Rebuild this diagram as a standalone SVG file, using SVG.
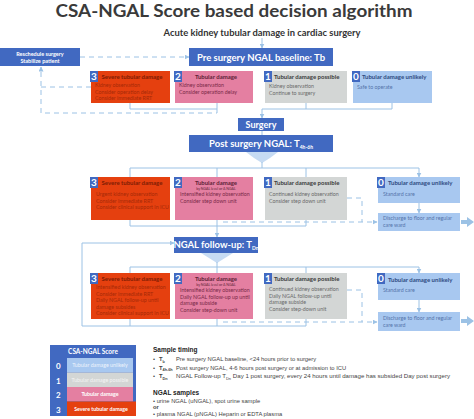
<svg xmlns="http://www.w3.org/2000/svg" width="474" height="419" viewBox="0 0 474 419">
<defs>
<marker id="ah" markerWidth="5" markerHeight="5" refX="4.5" refY="2.5" orient="auto" markerUnits="userSpaceOnUse">
<path d="M0,0 L5,2.5 L0,5 z" fill="#9cc2e5"/>
</marker>
<style>
.ln{fill:none;stroke:#9cc2e5;stroke-width:1}
.dl{fill:none;stroke:#9cc2e5;stroke-width:1;stroke-dasharray:5,4}
.bl{fill:#4169c1}
.t{font-family:Lato,"Open Sans","Liberation Sans",sans-serif}
.a{font-family:"Liberation Sans",Arial,sans-serif}
.hw{fill:#fff;font-weight:bold}
.bd{fill:#fff;font-weight:bold;font-size:10px;text-anchor:middle;font-family:Lato,"Liberation Sans",sans-serif}
.s3{fill:#e5400f}.s2{fill:#e47fa1}.s1{fill:#d3d6d5}.s0{fill:#a8c8f0}
.tt{font-size:6px;font-weight:bold}
.bt{font-size:5.3px}
.mid{text-anchor:middle}
.c3{fill:#7e1c04}.c2{fill:#5e1f38}.c1{fill:#3c3c3c}.c0{fill:#2e4a80}
.d3{fill:#a52a08}.d2{fill:#7a2a48}.d1{fill:#6a6a6a}.d0{fill:#5574aa}
.ch{fill:#c6dbf3}
.ex{fill:#9cc2e5}
.st{font-size:5.8px;fill:#444}
</style>
</defs>
<rect width="474" height="419" fill="#fff"/>

<text class="t" x="234" y="17" font-size="16.5" font-weight="bold" fill="#3a3a3a" text-anchor="middle" textLength="357" lengthAdjust="spacingAndGlyphs">CSA-NGAL Score based decision algorithm</text>
<text class="t" x="262" y="36" font-size="8.5" font-weight="bold" fill="#333" text-anchor="middle" textLength="197" lengthAdjust="spacingAndGlyphs">Acute kidney tubular damage in cardiac surgery</text>

<g id="connectors">
<path class="ln" d="M262,38 V48" marker-end="url(#ah)"/>
<path class="dl" d="M80,57 H189" marker-end="url(#ah)"/>
<path class="dl" d="M91,87 H41"/>
<path class="dl" d="M217,109 V113 H41 V67" marker-end="url(#ah)"/>
<path class="ln" d="M130,103 V109 H217 M217,103 V109"/>
<path class="ln" d="M306,103 V109 H392 V103 M262,109 H306"/>
<path class="ln" d="M262,109 V118" marker-end="url(#ah)"/>
<path class="ln" d="M262,131 V135" />
<polygon class="ch" points="246,152 278,152 270,158 262,163 254,158"/>
<path class="ln" d="M262,162 V168 M130,168 H419"/>
<path class="ln" d="M130,168 V177 M217,168 V177 M306,168 V177 M419,168 V177" marker-end="url(#ah)"/>
<path class="ln" d="M130,220 V226 H306 V220"/>
<path class="ln" d="M217,220 V237" marker-end="url(#ah)"/>
<path class="dl" d="M347,198 H362 V222"/>
<path class="dl" d="M223,222 H377" marker-end="url(#ah)"/>
<path class="ln" d="M419,203 V213" marker-end="url(#ah)"/>
<polygon class="ex" points="461,220 467,220 467,217 474,222 467,227 467,224 461,224"/>
<polygon class="ch" points="201,253 233,253 225,258 217,263 209,258"/>
<path class="ln" d="M217,262 V267 M130,267 H419"/>
<path class="ln" d="M130,267 V273 M217,267 V273 M306,267 V273 M419,267 V273" marker-end="url(#ah)"/>
<path class="ln" d="M130,319 V326 M217,319 V326 M306,319 V326 M82,326 H306"/>
<path class="ln" d="M82,326 V243 H174" marker-end="url(#ah)"/>
<path class="dl" d="M347,290 H362 V322"/>
<path class="dl" d="M223,322 H377" marker-end="url(#ah)"/>
<path class="ln" d="M419,300 V312" marker-end="url(#ah)"/>
<polygon class="ex" points="461,319 467,319 467,316 474,321 467,326 467,323 461,323"/>
</g>

<g id="reschedule">
<rect class="bl" x="0" y="48" width="80" height="18"/>
<text class="t hw mid" x="40" y="55.5" font-size="5.5">Reschedule surgery</text>
<text class="t hw mid" x="40" y="62.5" font-size="5.5">Stabilize patient</text>
</g>
<g id="pre">
<rect class="bl" x="189" y="48" width="144" height="18"/>
<text class="t hw mid" x="261" y="60.5" font-size="9.5">Pre surgery NGAL baseline: Tb</text>
</g>

<g id="r1s3">
<rect class="s3" x="91" y="71" width="79" height="32"/>
<rect class="bl" x="90" y="71" width="8" height="11"/><text class="bd" x="94" y="80">3</text>
<text class="t tt c3 mid" x="132" y="79">Severe tubular damage</text>
<text class="t bt d3" x="95" y="87">Kidney observation</text>
<text class="t bt d3" x="95" y="93.5">Consider operation delay</text>
<text class="t bt d3" x="95" y="100">Consider immediate RRT</text>
</g>
<g id="r1s2">
<rect class="s2" x="175" y="71" width="78" height="32"/>
<rect class="bl" x="174" y="71" width="8" height="11"/><text class="bd" x="178" y="80">2</text>
<text class="t tt c2 mid" x="216" y="79">Tubular damage</text>
<text class="t bt d2" x="179" y="87">Kidney observation</text>
<text class="t bt d2" x="179" y="93.5">Consider operation delay</text>
</g>
<g id="r1s1">
<rect class="s1" x="265" y="71" width="82" height="32"/>
<rect class="bl" x="264" y="71" width="8" height="11"/><text class="bd" x="268" y="80">1</text>
<text class="t tt c1" x="274" y="79">Tubular damage possible</text>
<text class="t bt d1" x="269" y="88">Kidney observation</text>
<text class="t bt d1" x="269" y="94.5">Continue to surgery</text>
</g>
<g id="r1s0">
<rect class="s0" x="353" y="71" width="79" height="32"/>
<rect class="bl" x="352" y="71" width="8" height="11"/><text class="bd" x="356" y="80">0</text>
<text class="t tt c0" x="362" y="79">Tubular damage unlikely</text>
<text class="t bt d0" x="357" y="89">Safe to operate</text>
</g>

<g id="surgery">
<rect class="bl" x="238" y="118" width="46" height="13"/>
<text class="t hw mid" x="261" y="128" font-size="9">Surgery</text>
</g>
<g id="post">
<rect class="bl" x="189" y="135" width="144" height="17"/>
<text class="t hw mid" x="261" y="147" font-size="9.5">Post surgery NGAL: T<tspan font-size="5" dy="1.5">4h-6h</tspan></text>
</g>

<g id="r2s3">
<rect class="s3" x="91" y="177" width="79" height="43"/>
<rect class="bl" x="90" y="177" width="8" height="11"/><text class="bd" x="94" y="186">3</text>
<text class="t tt c3 mid" x="132" y="185">Severe tubular damage</text>
<text class="t bt d3" x="96" y="196">Urgent kidney observation</text>
<text class="t bt d3" x="96" y="202.5">Consider immediate RRT</text>
<text class="t bt d3" x="96" y="209">Consider clinical support in ICU</text>
</g>
<g id="r2s2">
<rect class="s2" x="175" y="177" width="78" height="43"/>
<rect class="bl" x="174" y="177" width="8" height="11"/><text class="bd" x="178" y="186">2</text>
<text class="t tt c2 mid" x="216" y="185">Tubular damage</text>
<text class="t c2 mid" x="216" y="190" font-size="3.5">by NGAL level or Δ NGAL</text>
<text class="t bt d2" x="180" y="196">Intensified kidney observation</text>
<text class="t bt d2" x="180" y="202.5">Consider step down unit</text>
</g>
<g id="r2s1">
<rect class="s1" x="265" y="177" width="82" height="43"/>
<rect class="bl" x="264" y="177" width="8" height="11"/><text class="bd" x="268" y="186">1</text>
<text class="t tt c1" x="274" y="185">Tubular damage possible</text>
<text class="t bt d1" x="269" y="196">Continued kidney observation</text>
<text class="t bt d1" x="269" y="202.5">Consider step down unit</text>
</g>
<g id="r2s0">
<rect class="s0" x="378" y="177" width="82" height="26"/>
<rect class="bl" x="377" y="177" width="8" height="11"/><text class="bd" x="381" y="186">0</text>
<text class="t tt c0" x="388" y="185">Tubular damage unlikely</text>
<text class="t bt d0" x="383" y="196">Standard care</text>
</g>
<g id="r2dis">
<rect class="s0" x="378" y="213" width="82" height="18"/>
<text class="t bt d0" x="383" y="220">Discharge to floor and regular</text>
<text class="t bt d0" x="383" y="227">care ward</text>
</g>

<g id="followup">
<rect class="bl" x="174" y="237" width="84" height="16"/>
<text class="t hw mid" x="216" y="248" font-size="9.5">NGAL follow-up: T<tspan font-size="5" dy="1.5">Dn</tspan></text>
</g>

<g id="r3s3">
<rect class="s3" x="91" y="273" width="79" height="46"/>
<rect class="bl" x="90" y="273" width="8" height="11"/><text class="bd" x="94" y="282">3</text>
<text class="t tt c3 mid" x="132" y="281">Severe tubular damage</text>
<text class="t bt d3" x="96" y="289">Intensified kidney observation</text>
<text class="t bt d3" x="96" y="295.5">Consider immediate RRT</text>
<text class="t bt d3" x="96" y="302">Daily NGAL follow-up until</text>
<text class="t bt d3" x="96" y="308.5">damage subsides</text>
<text class="t bt d3" x="96" y="315">Consider clinical support in ICU</text>
</g>
<g id="r3s2">
<rect class="s2" x="175" y="273" width="78" height="46"/>
<rect class="bl" x="174" y="273" width="8" height="11"/><text class="bd" x="178" y="282">2</text>
<text class="t tt c2 mid" x="216" y="281">Tubular damage</text>
<text class="t c2 mid" x="216" y="286" font-size="3.5">by NGAL level or Δ NGAL</text>
<text class="t bt d2" x="180" y="292">Intensified kidney observation</text>
<text class="t bt d2" x="180" y="298.5">Daily NGAL follow-up up until</text>
<text class="t bt d2" x="180" y="305">damage subside</text>
<text class="t bt d2" x="180" y="311.5">Consider step-down unit</text>
</g>
<g id="r3s1">
<rect class="s1" x="265" y="273" width="82" height="46"/>
<rect class="bl" x="264" y="273" width="8" height="11"/><text class="bd" x="268" y="282">1</text>
<text class="t tt c1" x="274" y="281">Tubular damage possible</text>
<text class="t bt d1" x="269" y="291">Continued kidney observation</text>
<text class="t bt d1" x="269" y="297.5">Daily NGAL follow-up until</text>
<text class="t bt d1" x="269" y="304">damage subside</text>
<text class="t bt d1" x="269" y="310.5">Consider step-down unit</text>
</g>
<g id="r3s0">
<rect class="s0" x="378" y="273" width="82" height="27"/>
<rect class="bl" x="377" y="273" width="8" height="11"/><text class="bd" x="381" y="282">0</text>
<text class="t tt c0" x="388" y="282">Tubular damage unlikely</text>
<text class="t bt d0" x="383" y="292">Standard care</text>
</g>
<g id="r3dis">
<rect class="s0" x="378" y="312" width="82" height="19"/>
<text class="t bt d0" x="383" y="319.5">Discharge to floor and regular</text>
<text class="t bt d0" x="383" y="326.5">care ward</text>
</g>

<g id="legend">
<rect class="bl" x="50" y="345" width="86" height="71"/>
<text class="t hw mid" x="93" y="354" font-size="6.5">CSA-NGAL Score</text>
<rect class="s0" x="67" y="358" width="66" height="14.5"/>
<rect class="s1" x="67" y="372.5" width="66" height="14.5"/>
<rect class="s2" x="67" y="387" width="66" height="14.5"/>
<rect class="s3" x="67" y="401.5" width="69" height="14.5"/>
<text class="t hw" x="56" y="369" font-size="8">0</text>
<text class="t hw" x="56" y="383.5" font-size="8">1</text>
<text class="t hw" x="56" y="398" font-size="8">2</text>
<text class="t hw" x="56" y="412.5" font-size="8">3</text>
<text class="t mid" x="100" y="367" font-size="5.3" fill="#eef4fc">Tubular damage unlikely</text>
<text class="t mid" x="100" y="381.5" font-size="5.3" fill="#f4f4f4">Tubular damage possible</text>
<text class="t hw mid" x="100" y="396" font-size="5.3">Tubular damage</text>
<text class="t hw mid" x="101" y="410.5" font-size="5.3">Severe tubular damage</text>
</g>

<g id="notes">
<text class="a" x="153" y="352" font-size="6.5" font-weight="bold" fill="#222">Sample timing</text>
<text class="a st" x="153" y="361">•</text>
<text class="a st" x="159" y="361" font-weight="bold" fill="#222">T<tspan font-size="3.8" dy="1.5">b</tspan></text>
<text class="a st" x="176" y="361">Pre surgery NGAL baseline, &lt;24 hours prior to surgery</text>
<text class="a st" x="153" y="369.5">•</text>
<text class="a st" x="159" y="369.5" font-weight="bold" fill="#222">T<tspan font-size="3.8" dy="1.5">4h-6h</tspan></text>
<text class="a st" x="176" y="369.5">Post surgery NGAL, 4-6 hours post surgery or at admission to ICU</text>
<text class="a st" x="153" y="378">•</text>
<text class="a st" x="159" y="378" font-weight="bold" fill="#222">T<tspan font-size="3.8" dy="1.5">Dn</tspan></text>
<text class="a st" x="176" y="378" textLength="274" lengthAdjust="spacingAndGlyphs">NGAL Follow-up  T<tspan font-size="3.8" dy="1.5">Dn</tspan><tspan dy="-1.5"> Day 1 post surgery, every 24 hours until damage has subsided Day post surgery</tspan></text>
<text class="a" x="153" y="395" font-size="6.5" font-weight="bold" fill="#222">NGAL samples</text>
<text class="a st" x="153" y="403">•  urine NGAL (uNGAL), spot urine sample</text>
<text class="a st" x="153" y="409" font-weight="bold" fill="#222">or</text>
<text class="a st" x="153" y="416">•  plasma NGAL (pNGAL) Heparin or EDTA plasma</text>
</g>
</svg>
